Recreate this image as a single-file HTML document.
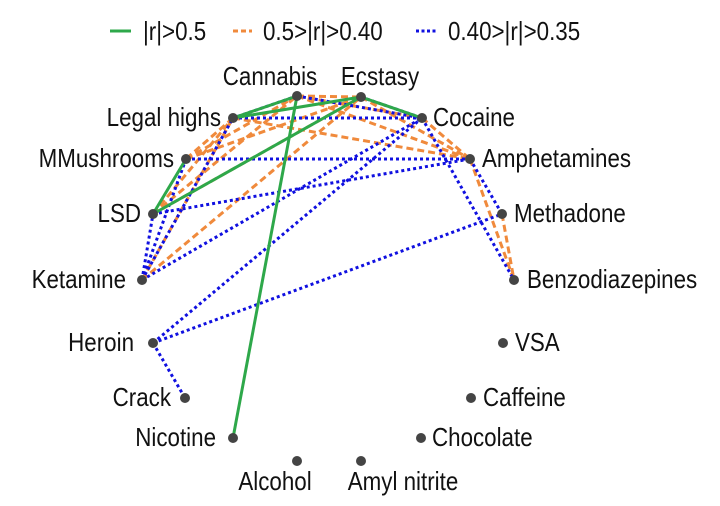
<!DOCTYPE html>
<html><head><meta charset="utf-8"><style>
html,body{margin:0;padding:0;background:#fff;}
svg{display:block;font-family:"Liberation Sans",sans-serif;}
</style></head><body>
<svg width="720" height="506" viewBox="0 0 720 506">
<g font-size="26" fill="#111">
<line x1="110" y1="31" x2="131" y2="31" stroke="#2ea84a" stroke-width="3"/>
<g transform="translate(143,40) scale(0.86,1)"><text>|r|&gt;0.5</text></g>
<line x1="233" y1="31" x2="252" y2="31" stroke="#f08a3c" stroke-width="3" stroke-dasharray="5,3"/>
<g transform="translate(263,40) scale(0.86,1)"><text>0.5&gt;|r|&gt;0.40</text></g>
<line x1="416" y1="31" x2="438" y2="31" stroke="#1010e0" stroke-width="3" stroke-dasharray="3,2.5"/>
<g transform="translate(448,40) scale(0.86,1)"><text>0.40&gt;|r|&gt;0.35</text></g>
</g>
<g fill="none" stroke-width="3">
<g stroke="#f08a3c" stroke-dasharray="7,4">
<path d="M297 96 L361 97"/>
<path d="M153 214 L297 96"/>
<path d="M153 214 L233 118"/>
<path d="M153 214 L361 97"/>
<path d="M186 159 L297 96"/>
<path d="M186 159 L361 97"/>
<path d="M142 280 L361 97"/>
<path d="M142 280 L233 118"/>
<path d="M297 96 L470 159"/>
<path d="M233 118 L470 159"/>
<path d="M361 97 L470 159"/>
<path d="M422 118 L470 159"/>
<path d="M470 159 L514 280"/>
<path d="M502 214 L514 280"/>
<path d="M297 96 L422 118"/>
<path d="M233 118 L186 159"/>
</g>
<g stroke="#1010e0" stroke-dasharray="3,3">
<path d="M233 118 L422 118"/>
<path d="M297 96 L422 118"/>
<path d="M361 97 L422 118"/>
<path d="M186 159 L470 159"/>
<path d="M153 214 L470 159"/>
<path d="M142 280 L422 118"/>
<path d="M153 343 L422 118"/>
<path d="M153 343 L502 214"/>
<path d="M153 343 L185 398"/>
<path d="M142 280 L233 118"/>
<path d="M142 280 L186 159"/>
<path d="M142 280 L153 214"/>
<path d="M470 159 L502 214"/>
<path d="M422 118 L514 280"/>
<path d="M297 96 L233 118"/>
</g>
<g stroke="#2ea84a">
<path d="M297 96 L233 118"/>
<path d="M361 97 L233 118"/>
<path d="M361 97 L422 118"/>
<path d="M361 97 L153 214"/>
<path d="M186 159 L153 214"/>
<path d="M297 96 L233 438"/>
</g>
</g>
<g fill="#444">
<circle cx="297" cy="96" r="5"/><circle cx="361" cy="97" r="5"/>
<circle cx="233" cy="118" r="5"/><circle cx="422" cy="118" r="5"/>
<circle cx="186" cy="159" r="5"/><circle cx="470" cy="159" r="5"/>
<circle cx="153" cy="214" r="5"/><circle cx="502" cy="214" r="5"/>
<circle cx="142" cy="280" r="5"/><circle cx="514" cy="280" r="5"/>
<circle cx="153" cy="343" r="5"/><circle cx="503" cy="343" r="5"/>
<circle cx="185" cy="398" r="5"/><circle cx="471" cy="398" r="5"/>
<circle cx="233" cy="438" r="5"/><circle cx="421" cy="438" r="5"/>
<circle cx="297" cy="461" r="5"/><circle cx="361" cy="461" r="5"/>
</g>
<g font-size="26" fill="#111">
<g transform="translate(270,85) scale(0.86,1)"><text text-anchor="middle">Cannabis</text></g>
<g transform="translate(380,85) scale(0.86,1)"><text text-anchor="middle">Ecstasy</text></g>
<g transform="translate(221,126) scale(0.86,1)"><text text-anchor="end">Legal highs</text></g>
<g transform="translate(433,126) scale(0.86,1)"><text>Cocaine</text></g>
<g transform="translate(174,167) scale(0.86,1)"><text text-anchor="end">MMushrooms</text></g>
<g transform="translate(482,167) scale(0.86,1)"><text>Amphetamines</text></g>
<g transform="translate(141,222) scale(0.86,1)"><text text-anchor="end">LSD</text></g>
<g transform="translate(514,222) scale(0.86,1)"><text>Methadone</text></g>
<g transform="translate(126,288) scale(0.86,1)"><text text-anchor="end">Ketamine</text></g>
<g transform="translate(527,288) scale(0.86,1)"><text>Benzodiazepines</text></g>
<g transform="translate(134,351) scale(0.86,1)"><text text-anchor="end">Heroin</text></g>
<g transform="translate(515,351) scale(0.86,1)"><text>VSA</text></g>
<g transform="translate(171,406) scale(0.86,1)"><text text-anchor="end">Crack</text></g>
<g transform="translate(483,406) scale(0.86,1)"><text>Caffeine</text></g>
<g transform="translate(216,446) scale(0.86,1)"><text text-anchor="end">Nicotine</text></g>
<g transform="translate(432,446) scale(0.86,1)"><text>Chocolate</text></g>
<g transform="translate(275,490) scale(0.86,1)"><text text-anchor="middle">Alcohol</text></g>
<g transform="translate(403,490) scale(0.86,1)"><text text-anchor="middle">Amyl nitrite</text></g>
</g>
</svg>
</body></html>
